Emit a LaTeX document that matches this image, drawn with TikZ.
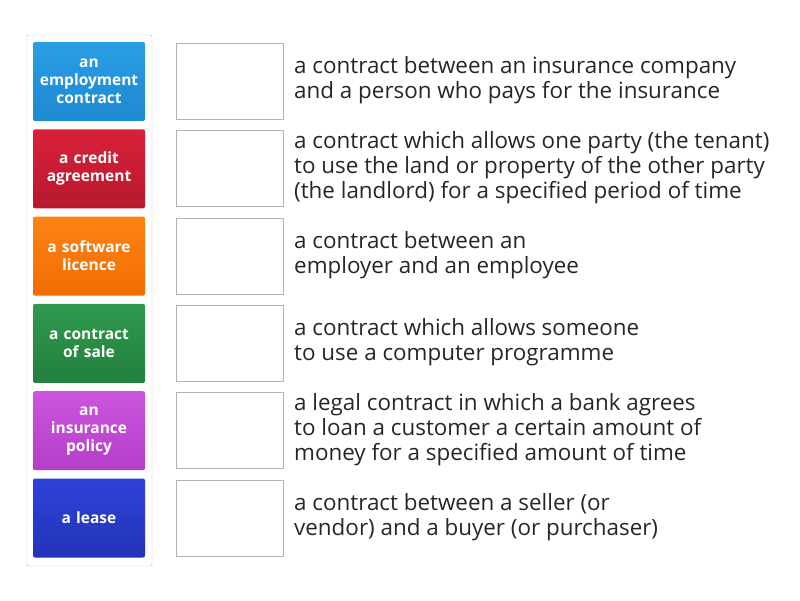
\documentclass[tikz,border=0pt]{standalone}
\usepackage{fontspec}
\setmainfont{Open Sans}
\begin{document}
\begin{tikzpicture}[x=1pt,y=-1pt,
  tile/.style={rounded corners=2pt,minimum width=112pt,minimum height=79pt,text width=106pt,align=center,text=white,font=\bfseries\fontsize{15.5}{18}\selectfont,inner sep=0pt},
  slot/.style={draw=black!30,line width=0.8pt,minimum width=107pt,minimum height=76pt,inner sep=0pt},
  desc/.style={anchor=west,align=left,font=\fontsize{22.4}{25}\selectfont,text=black!85,inner sep=0pt}]
\useasboundingbox (0,0) rectangle (800,600);
\definecolor{c1}{HTML}{2A9EE6}\definecolor{c1b}{HTML}{1E88D0}
\definecolor{c2}{HTML}{D8213A}\definecolor{c2b}{HTML}{B8192E}
\definecolor{c3}{HTML}{FF8214}\definecolor{c3b}{HTML}{F06E00}
\definecolor{c4}{HTML}{2F9A4E}\definecolor{c4b}{HTML}{237F3E}
\definecolor{c5}{HTML}{CC55DE}\definecolor{c5b}{HTML}{B43EC8}
\definecolor{c6}{HTML}{2E42D8}\definecolor{c6b}{HTML}{2234B8}
\node[draw=black!25,rounded corners=2pt,minimum width=125pt,minimum height=531pt,inner sep=0pt] (frame) at (89.5,300.5) {};
\foreach \i/\t/\s in {1/{an\\employment\\contract}/{a contract between an insurance company\\and a person who pays for the insurance},
 2/{a credit\\agreement}/{a contract which allows one party (the tenant)\\to use the land or property of the other party\\(the landlord) for a specified period of time},
 3/{a software\\licence}/{a contract between an\\employer and an employee},
 4/{a contract\\of sale}/{a contract which allows someone\\to use a computer programme},
 5/{an\\insurance\\policy}/{a legal contract in which a bank agrees\\to loan a customer a certain amount of\\money for a specified amount of time},
 6/{a lease}/{a contract between a seller (or\\vendor) and a buyer (or purchaser)}}{
 \pgfmathsetmacro{\yy}{81.5+87.3*(\i-1)}
 \node[tile,top color=c\i,bottom color=c\i b] (t\i) at (89,\yy) {\t};
 \node[slot] (s\i) at (229.5,\yy) {};
 \node[desc] (d\i) at (294,\yy-1) {\s};
}
\end{tikzpicture}
\end{document}
